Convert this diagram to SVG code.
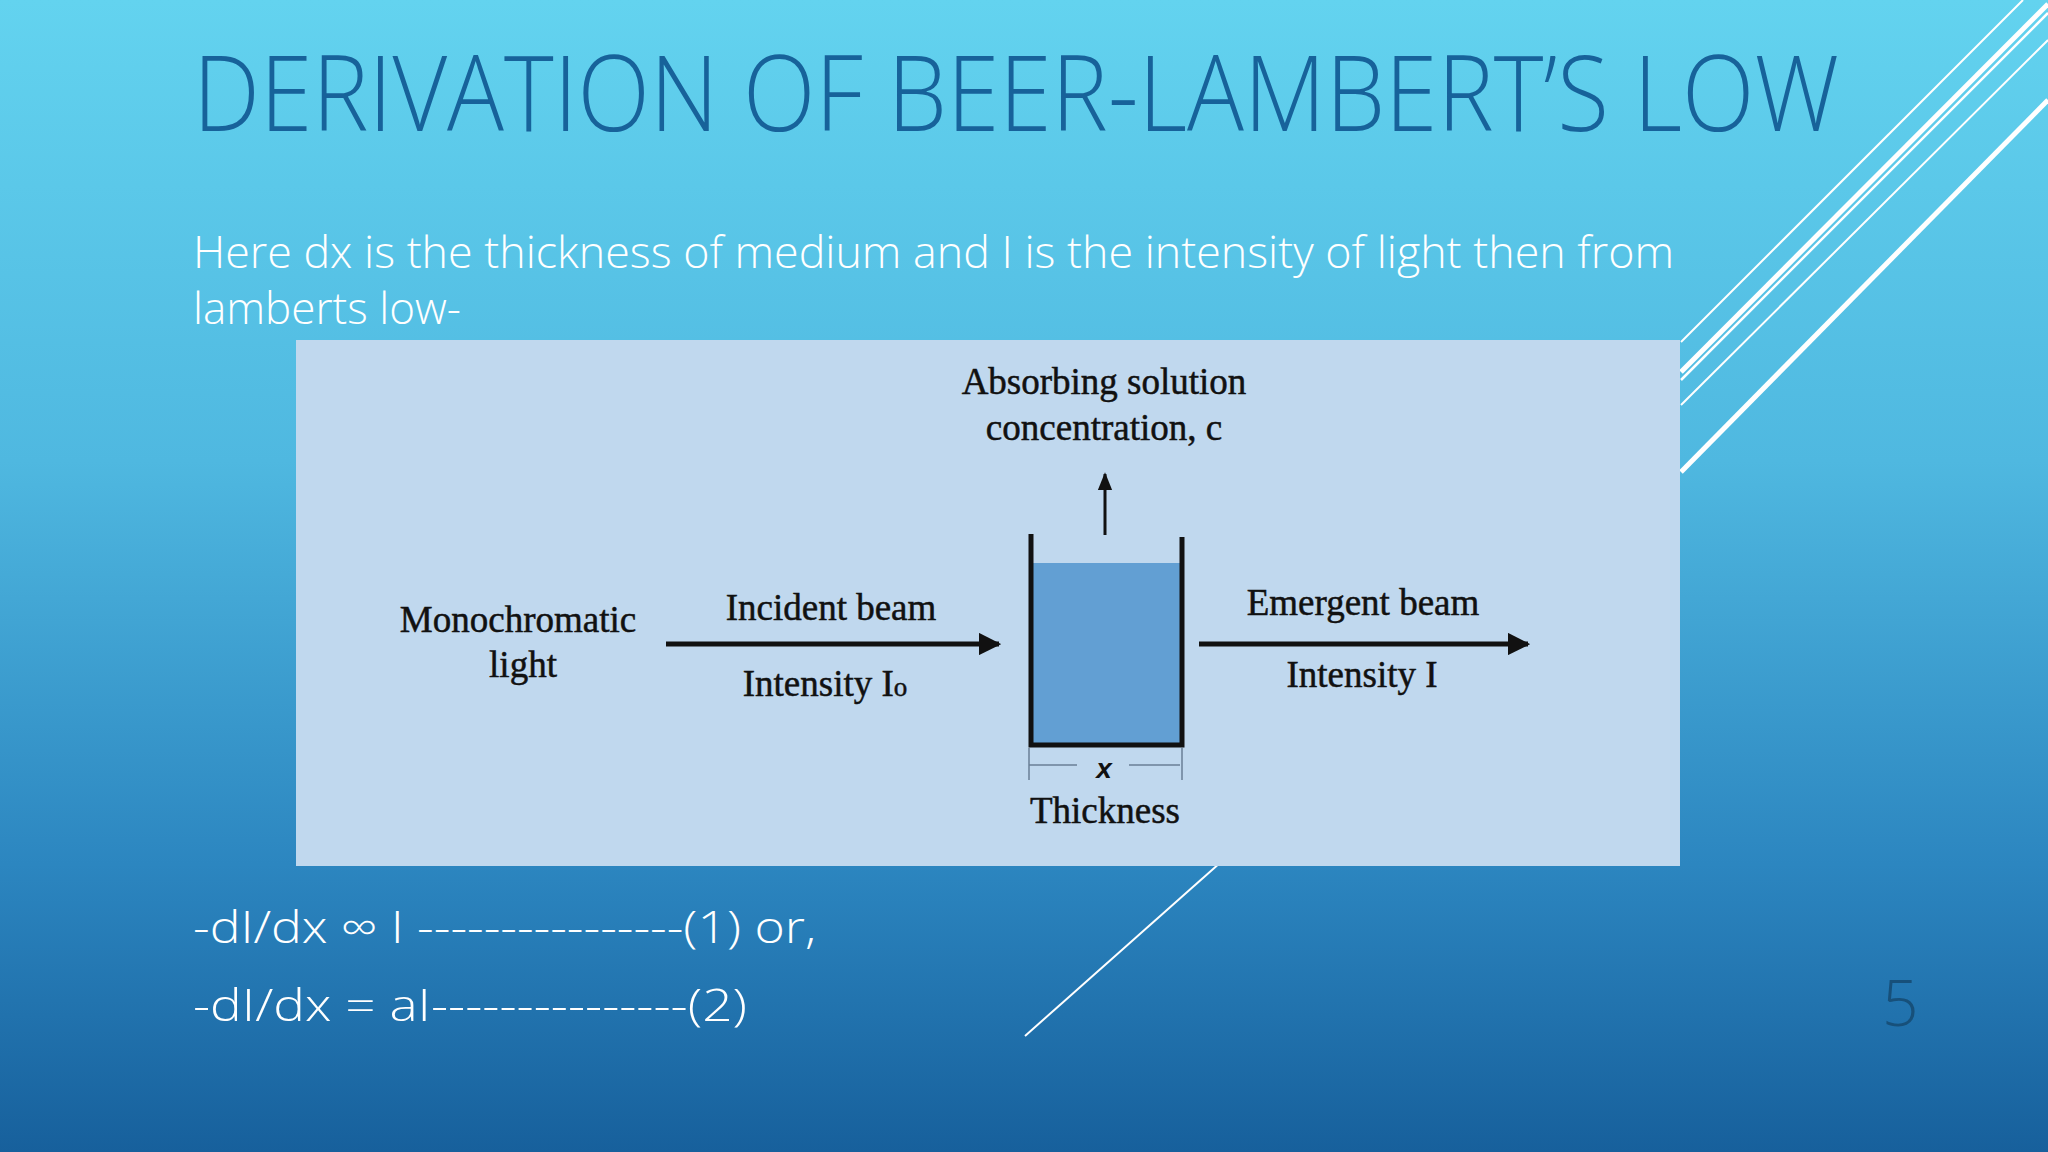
<svg xmlns="http://www.w3.org/2000/svg" width="2048" height="1152" viewBox="0 0 2048 1152">
<defs>
<linearGradient id="bg" x1="0" y1="0" x2="0" y2="1">
<stop offset="0" stop-color="#63d3ef"/>
<stop offset="0.4" stop-color="#4fb8e0"/>
<stop offset="0.75" stop-color="#2c86c0"/>
<stop offset="1" stop-color="#17609c"/>
</linearGradient>
<marker id="ah" viewBox="0 0 10 10" refX="9" refY="5" markerWidth="4.5" markerHeight="4.5" orient="auto"><path d="M0,0 L10,5 L0,10 z" fill="#111"/></marker>
<marker id="ahs" viewBox="0 0 10 10" refX="9" refY="5" markerWidth="6" markerHeight="6" orient="auto"><path d="M0,1 L10,5 L0,9 z" fill="#111"/></marker>
<style>
.w{stroke:#fff;fill:none}
.s{font-family:"Liberation Serif",serif;font-size:37px;fill:#111;stroke:#111;stroke-width:0.5;text-anchor:middle}
.b{font-family:"Open Sans",sans-serif;font-weight:300;fill:#fff}
</style>
</defs>
<rect width="2048" height="1152" fill="url(#bg)"/>
<g id="deco">
<line class="w" stroke-width="2" x1="2023" y1="0" x2="1681" y2="342"/>
<line class="w" stroke-width="5" x1="2048" y1="4" x2="1681" y2="372"/>
<line class="w" stroke-width="2.5" x1="2048" y1="13" x2="1681" y2="380"/>
<line class="w" stroke-width="2" x1="2048" y1="40" x2="1681" y2="405"/>
<line class="w" stroke-width="5" x1="2048" y1="100" x2="1681" y2="472"/>
<line class="w" stroke-width="2" x1="1025" y1="1036" x2="1221" y2="862"/>
</g>
<text x="193" y="131" font-family="Open Sans, sans-serif" font-weight="300" font-size="106" fill="#17629a" textLength="1646" lengthAdjust="spacingAndGlyphs">DERIVATION OF BEER-LAMBERT’S LOW</text>
<text class="b" x="193" y="268" font-size="44" textLength="1481" lengthAdjust="spacingAndGlyphs">Here dx is the thickness of medium and I is the intensity of light then from</text>
<text class="b" x="193" y="324" font-size="44">lamberts low-</text>
<rect id="panel" x="296" y="340" width="1384" height="526" fill="#c0d8ee"/>
<g id="source"><text class="s" x="518" y="632">Monochromatic</text><text class="s" x="523" y="677">light</text></g>
<g id="cuvette">
<rect x="1033" y="563" width="148" height="182" fill="#629fd3"/>
<path d="M1031,534 V745 H1182 V537" fill="none" stroke="#111" stroke-width="5"/>
<path d="M1029,748 V780 M1182,748 V780 M1029,765 H1077 M1129,765 H1180" stroke="#6a7f96" stroke-width="1.5" fill="none"/>
<text x="1104" y="778" font-family="Liberation Sans, sans-serif" font-style="italic" font-weight="bold" font-size="28" fill="#111" text-anchor="middle">x</text>
<text class="s" x="1105" y="823">Thickness</text>
</g>
<g id="solution"><text class="s" x="1104" y="394">Absorbing solution</text><text class="s" x="1104" y="440">concentration, c</text></g>
<g id="connectors">
<line x1="1105" y1="535" x2="1105" y2="474" stroke="#111" stroke-width="3" marker-end="url(#ahs)"/>
<line x1="666" y1="644" x2="999" y2="644" stroke="#111" stroke-width="5" marker-end="url(#ah)"/>
<line x1="1199" y1="644" x2="1528" y2="644" stroke="#111" stroke-width="5" marker-end="url(#ah)"/>
</g>
<g id="labels">
<text class="s" x="831" y="620">Incident beam</text>
<text class="s" x="825" y="696">Intensity  I<tspan font-size="27">o</tspan></text>
<text class="s" x="1363" y="615">Emergent beam</text>
<text class="s" x="1362" y="687">Intensity  I</text>
</g>
<text class="b" x="193" y="943" font-size="44" textLength="623" lengthAdjust="spacingAndGlyphs">-dI/dx ∞ I ----------------(1) or,</text>
<text class="b" x="193" y="1021" font-size="44" textLength="554" lengthAdjust="spacingAndGlyphs">-dI/dx = aI---------------(2)</text>
<text x="1882" y="1026" font-family="Open Sans, sans-serif" font-weight="300" font-size="64" fill="#17507a">5</text>
</svg>
